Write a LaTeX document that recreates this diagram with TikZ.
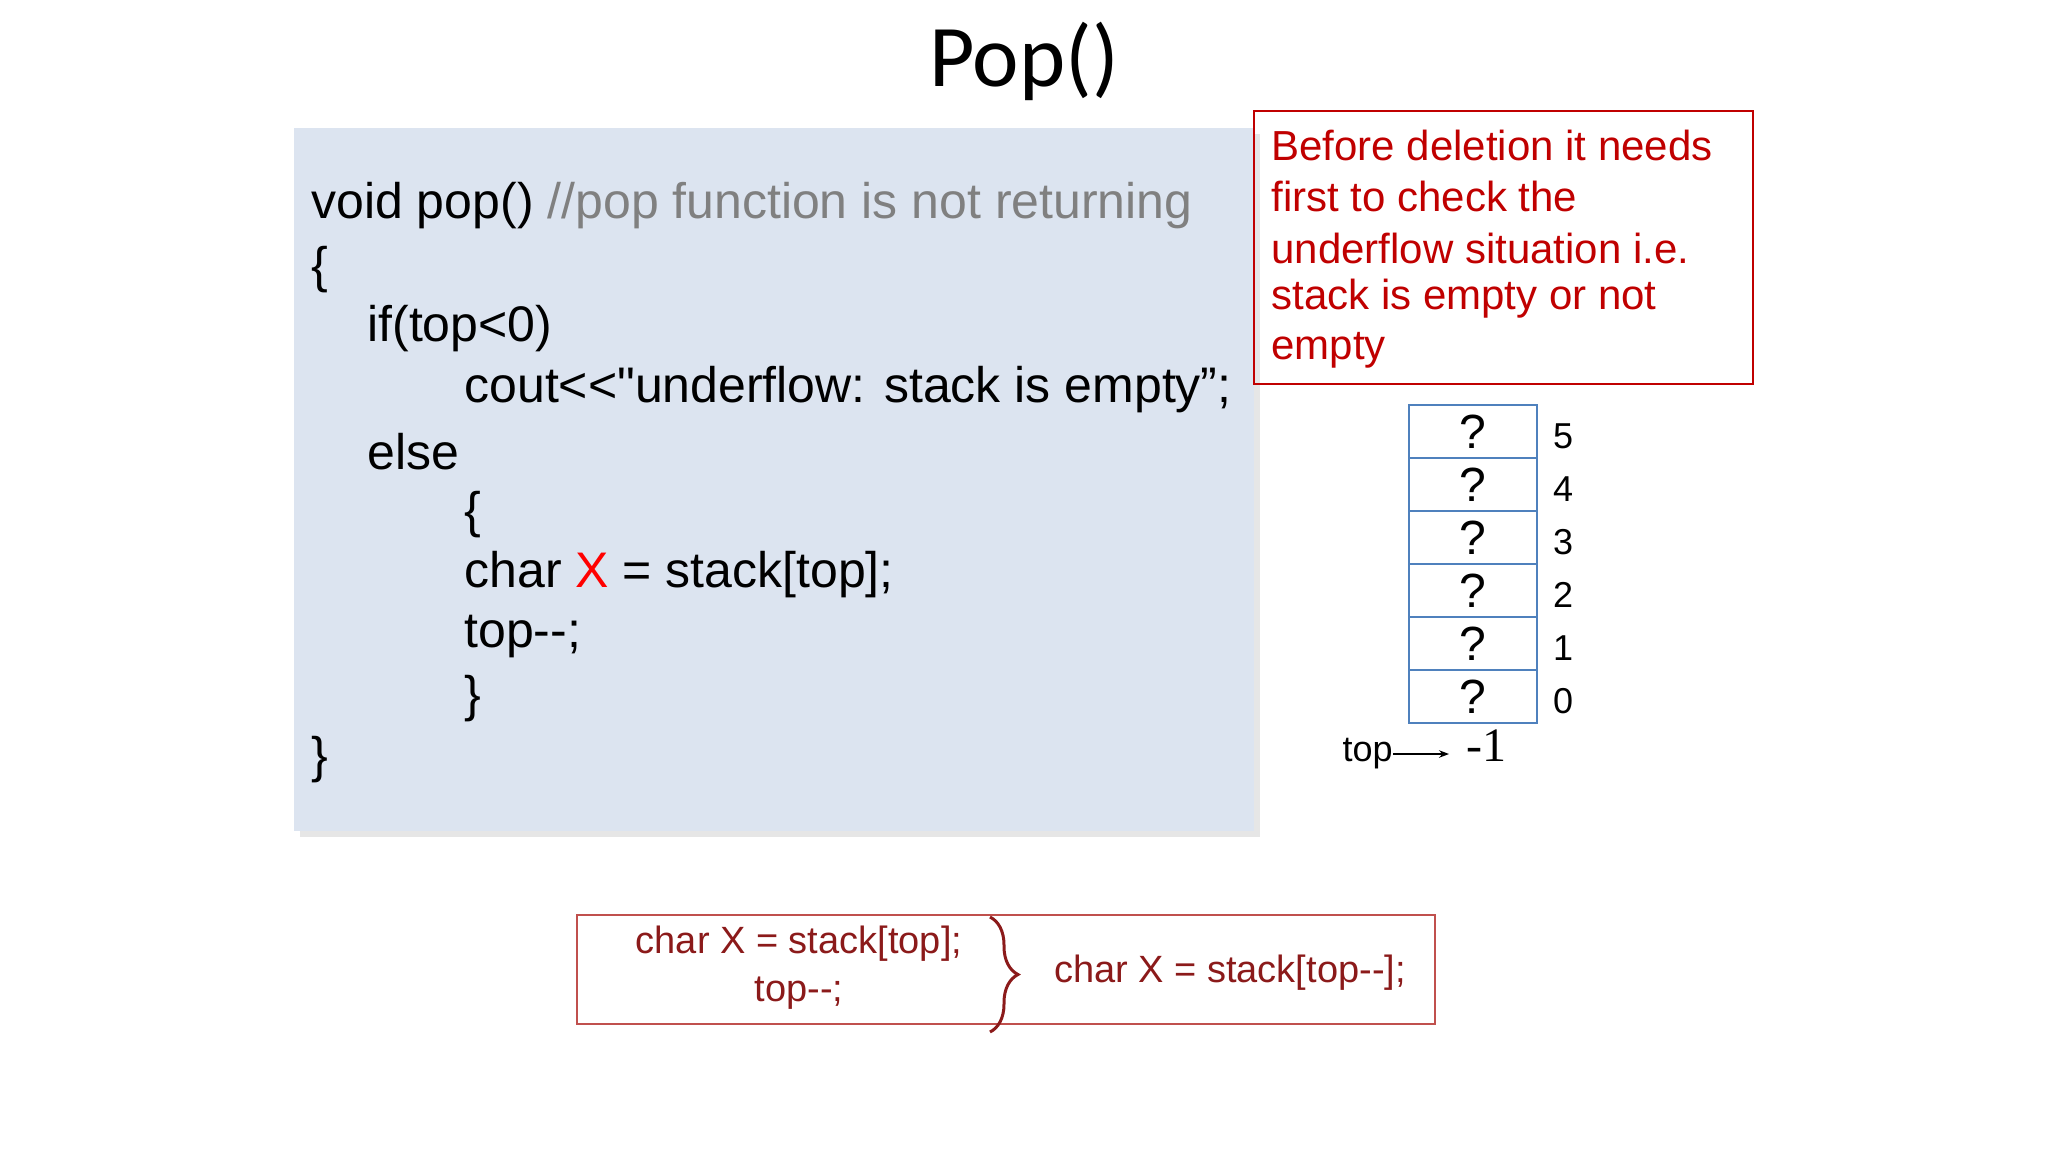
\documentclass[tikz,border=0pt]{standalone}
\usepackage{fontspec}
\setmainfont{Liberation Sans}
\newfontfamily\rawsans{Liberation Sans}
\newfontfamily\serifx{Liberation Serif}
\newfontfamily\titlefont{Carlito}
\usetikzlibrary{shadows,decorations.pathreplacing,arrows.meta}
\definecolor{codebg}{HTML}{DCE4F0}
\definecolor{notered}{HTML}{C00000}
\definecolor{darkred}{HTML}{8B1A1A}
\definecolor{boxred}{HTML}{C0504D}
\definecolor{cellblue}{HTML}{4F81BD}
\definecolor{cmt}{HTML}{808080}
\begin{document}
\begin{tikzpicture}[x=0.5pt,y=-0.5pt,
  code/.style={anchor=west,inner sep=0,font=\fontsize{25}{29}\selectfont},
  note/.style={anchor=west,inner sep=0,text=notered,font=\fontsize{21}{25}\selectfont},
  cell/.style={draw=cellblue,line width=0.8pt,minimum width=64pt,minimum height=26.5pt,inner sep=0,font=\fontsize{24}{28}\selectfont},
  idx/.style={inner sep=0,font=\fontsize{18}{21}\selectfont},
  bot/.style={inner sep=0,text=darkred,font=\fontsize{19}{23}\selectfont,align=center}]
\useasboundingbox (0,0) rectangle (2048,1152);
\node (title) at (1024,61) {\titlefont\fontsize{44}{50}\selectfont Pop()};
\fill[codebg,drop shadow={shadow xshift=3pt,shadow yshift=-3pt,opacity=0.2}] (294,128) rectangle (1254,831);
\node[code] (l1) at (311,206) {void pop() \textcolor{cmt}{//pop function is not returning}};
\node[code] (l2) at (311,270) {\{};
\node[code] (l3) at (367,329) {if(top<0)};
\node[code] (l4) at (464,390) {cout<{}<{\rawsans"}underflow: stack is empty”;};
\node[code] (l5) at (367,452) {else};
\node[code] (l6) at (464,515) {\{};
\node[code] (l7) at (464,575) {char \textcolor{red}{X} = stack[top];};
\node[code] (l8) at (464,637) {top-{}-;};
\node[code] (l9) at (464,699) {\}};
\node[code] (l10) at (311,760) {\}};
\draw[notered,line width=0.8pt] (1254,111) rectangle (1753,384);
\node[note] (n1) at (1271,145) {Before deletion it needs};
\node[note] (n2) at (1271,196) {first to check the};
\node[note] (n3) at (1271,248) {underflow situation i.e.};
\node[note] (n4) at (1271,299) {stack is empty or not};
\node[note] (n5) at (1271,350) {empty};
\foreach \i/\lab in {0/5,1/4,2/3,3/2,4/1,5/0}{
  \node[cell] (c\lab) at (1473,{431.5+53*\i}) {?};
  \node[idx] (i\lab) at (1563,{436+53*\i}) {\lab};
}
\node[idx,anchor=east] (top) at (1393,754) {top};
\node[inner sep=0,font=\serifx\fontsize{24}{28}\selectfont] (m1) at (1486,746) {-1};
\coordinate (arrend) at (1449,754);
\draw[-{Stealth[length=5pt]},line width=0.6pt] (top.east) -- (arrend);
\draw[boxred,line width=0.8pt] (577,915) rectangle (1435,1024);
\node[bot] (left) at (799,968) {char X = stack[top];\\[1pt]top-{}-;};
\node[bot] (right) at (1230,973) {char X = stack[top-{}-];};
\draw[darkred,line width=1.5pt,decorate,decoration={brace,amplitude=14pt}] (990,917) -- (990,1032);
\end{tikzpicture}
\end{document}
